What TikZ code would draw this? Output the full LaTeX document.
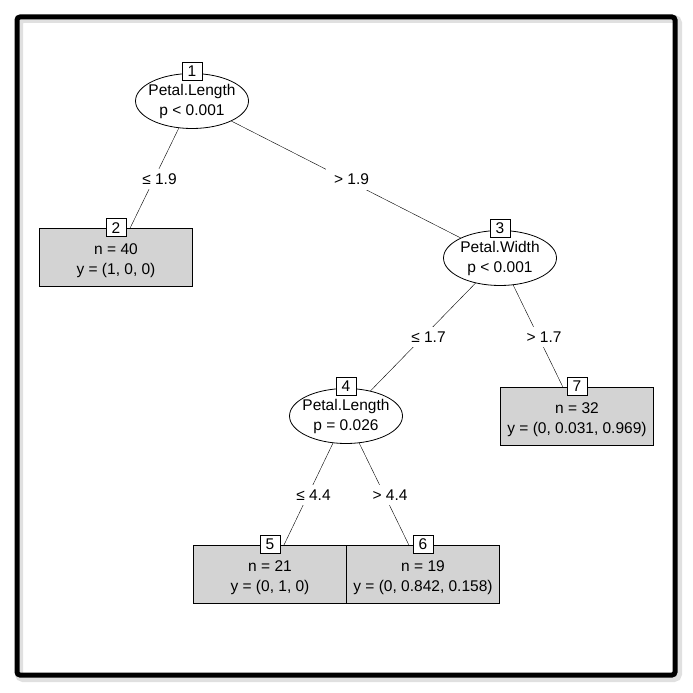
\documentclass[tikz,border=0pt]{standalone}
\usepackage{fontspec}
\setmainfont{Liberation Sans}
\usetikzlibrary{shapes,backgrounds}
\definecolor{termgray}{RGB}{211,211,211}
\newcommand{\headroom}{\rule{0pt}{19pt}}

\begin{document}
\begin{tikzpicture}[x=1pt,y=-1pt,line width=0.8pt,
		inner/.style={draw,ellipse,fill=white,minimum width=113pt,minimum height=55pt,inner xsep=-6pt,inner ysep=0pt,align=center},
		term/.style={draw,fill=termgray,minimum width=153pt,minimum height=58pt,inner sep=0pt,align=center},
		num/.style={draw,fill=white,minimum width=20pt,minimum height=18pt,inner sep=0pt},
		split/.style={fill=white,inner xsep=8pt,inner ysep=5pt,xshift=5.5pt},
		font=\fontsize{15.5}{20}\selectfont]
				\useasboundingbox (0,0) rectangle (693,693);
				% frame with shadow
				\draw[line width=8pt,black!12,rounded corners=4pt] (19,19) rectangle (678,678);
				\draw[line width=5pt,rounded corners=3pt] (17,17) rectangle (675,675);
				
				\node[inner] (n1) at (192,101) {Petal.Length\\p < 0.001};
				\node[term] (n2) at (116,257) {\headroom n = 40\\y = (1, 0, 0)};
				\node[inner] (n3) at (500,258) {Petal.Width\\p < 0.001};
				\node[inner] (n4) at (346,416) {Petal.Length\\p = 0.026};
				\node[term] (n5) at (270,574) {\headroom n = 21\\y = (0, 1, 0)};
				\node[term] (n6) at (423,574) {\headroom n = 19\\y = (0, 0.842, 0.158)};
				\node[term] (n7) at (577,416) {\headroom n = 32\\y = (0, 0.031, 0.969)};
				
				\node[num,yshift=1.5pt] (k1) at (n1.north) {1};
				\node[num] (k2) at (n2.north) {2};
				\node[num,yshift=1.5pt] (k3) at (n3.north) {3};
				\node[num,yshift=1.5pt] (k4) at (n4.north) {4};
				\node[num] (k5) at (n5.north) {5};
				\node[num] (k6) at (n6.north) {6};
				\node[num] (k7) at (n7.north) {7};
				
				\begin{pgfonlayer}{background}
				\draw (n1.center) -- node[split] {≤ 1.9} (n2.center);
				\draw (n1.center) -- node[split] {> 1.9} (n3.center);
				\draw (n3.center) -- node[split] {≤ 1.7} (n4.center);
				\draw (n3.center) -- node[split] {> 1.7} (n7.center);
				\draw (n4.center) -- node[split] {≤ 4.4} (n5.center);
				\draw (n4.center) -- node[split] {> 4.4} (n6.center);
				\end{pgfonlayer}
\end{tikzpicture}
\end{document}
